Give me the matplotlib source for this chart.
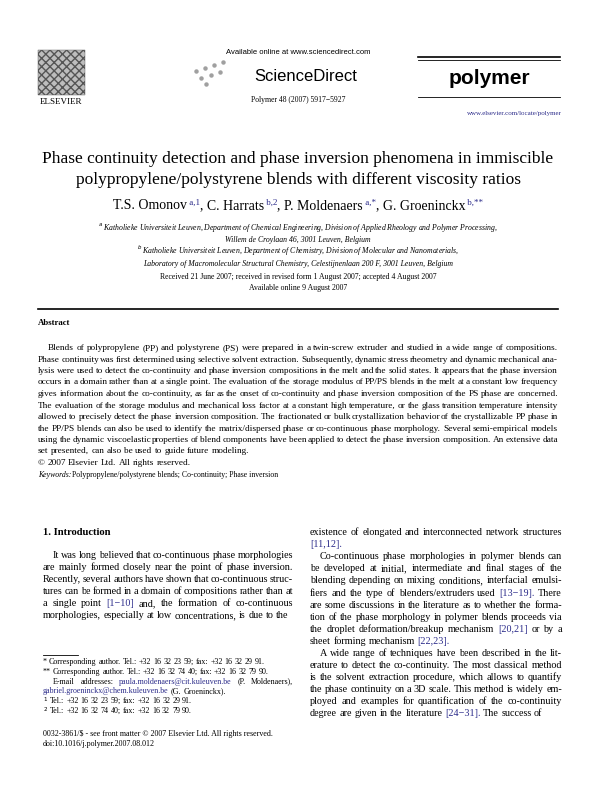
import matplotlib
matplotlib.use("Agg")
import matplotlib.pyplot as plt
from matplotlib.patches import Rectangle

W, H = 595, 794
SERIF = "Liberation Serif"
SANS = "Liberation Sans"
BLUE = "#2b2b8a"

TITLE = [
    "Phase continuity detection and phase inversion phenomena in immiscible",
    "polypropylene/polystyrene blends with different viscosity ratios",
]
AUTHORS = [("T.S. Omonov", "a,1"), (", C. Harrats", "b,2"),
           (", P. Moldenaers", "a,*"), (", G. Groeninckx", "b,**")]
AFFILIATIONS = [
    "$^{a}$ Katholieke Universiteit Leuven, Department of Chemical Engineering, Division of Applied Rheology and Polymer Processing,",
    "Willem de Croylaan 46, 3001 Leuven, Belgium",
    "$^{b}$ Katholieke Universiteit Leuven, Department of Chemistry, Division of Molecular and Nanomaterials,",
    "Laboratory of Macromolecular Structural Chemistry, Celestijnenlaan 200 F, 3001 Leuven, Belgium",
]
DATES = [
    "Received 21 June 2007; received in revised form 1 August 2007; accepted 4 August 2007",
    "Available online 9 August 2007",
]
ABSTRACT = [
    "    Blends of polypropylene (PP) and polystyrene (PS) were prepared in a twin-screw extruder and studied in a wide range of compositions.",
    "Phase continuity was first determined using selective solvent extraction. Subsequently, dynamic stress rheometry and dynamic mechanical ana-",
    "lysis were used to detect the co-continuity and phase inversion compositions in the melt and the solid states. It appears that the phase inversion",
    "occurs in a domain rather than at a single point. The evaluation of the storage modulus of PP/PS blends in the melt at a constant low frequency",
    "gives information about the co-continuity, as far as the onset of co-continuity and phase inversion composition of the PS phase are concerned.",
    "The evaluation of the storage modulus and mechanical loss factor at a constant high temperature, or the glass transition temperature intensity",
    "allowed to precisely detect the phase inversion composition. The fractionated or bulk crystallization behavior of the crystallizable PP phase in",
    "the PP/PS blends can also be used to identify the matrix/dispersed phase or co-continuous phase morphology. Several semi-empirical models",
    "using the dynamic viscoelastic properties of blend components have been applied to detect the phase inversion composition. An extensive data",
    "set presented, can also be used to guide future modeling.",
    "© 2007 Elsevier Ltd. All rights reserved.",
]
LEFT_COL = [
    "    It was long believed that co-continuous phase morphologies",
    "are mainly formed closely near the point of phase inversion.",
    "Recently, several authors have shown that co-continuous struc-",
    "tures can be formed in a domain of compositions rather than at",
    "a single point [1−10] and, the formation of co-continuous",
    "morphologies, especially at low concentrations, is due to the",
]
RIGHT_COL = [
    "existence of elongated and interconnected network structures",
    "[11,12].",
    "    Co-continuous phase morphologies in polymer blends can",
    "be developed at initial, intermediate and final stages of the",
    "blending depending on mixing conditions, interfacial emulsi-",
    "fiers and the type of blenders/extruders used [13−19]. There",
    "are some discussions in the literature as to whether the forma-",
    "tion of the phase morphology in polymer blends proceeds via",
    "the droplet deformation/breakup mechanism [20,21] or by a",
    "sheet forming mechanism [22,23].",
    "    A wide range of techniques have been described in the lit-",
    "erature to detect the co-continuity. The most classical method",
    "is the solvent extraction procedure, which allows to quantify",
    "the phase continuity on a 3D scale. This method is widely em-",
    "ployed and examples for quantification of the co-continuity",
    "degree are given in the literature [24−31]. The success of",
]
FOOTNOTES = [
    "  * Corresponding author. Tel.: +32 16 32 23 59; fax: +32 16 32 29 91.",
    "** Corresponding author. Tel.: +32 16 32 74 40; fax: +32 16 32 79 90.",
    "    E-mail addresses: paula.moldenaers@cit.kuleuven.be (P. Moldenaers),",
    "gabriel.groeninckx@chem.kuleuven.be (G. Groeninckx).",
    "  $^1$ Tel.: +32 16 32 23 59; fax: +32 16 32 29 91.",
    "  $^2$ Tel.: +32 16 32 74 40; fax: +32 16 32 79 90.",
]
FRONT_MATTER = [
    "0032-3861/$ - see front matter © 2007 Elsevier Ltd. All rights reserved.",
    "doi:10.1016/j.polymer.2007.08.012",
]
SD_DOTS_X = [196, 205, 214, 223, 201, 211, 220, 206]
SD_DOTS_Y = [71, 68, 65, 62, 78, 75, 72, 84]

fig = plt.figure(figsize=(W / 100, H / 100), dpi=100)
fig.patch.set_facecolor("white")
renderer = fig.canvas.get_renderer()


def fx(x):
    return x / W


def fy(y):
    return 1 - y / H


def put(x, y, s, size, ha="left", **kw):
    kw.setdefault("family", SERIF)
    return fig.text(fx(x), fy(y), s, fontsize=size, ha=ha, va="baseline", **kw)


def width_of(t):
    return t.get_window_extent(renderer).width


def hline(x0, x1, y, lw=0.8):
    fig.add_artist(plt.Line2D([fx(x0), fx(x1)], [fy(y), fy(y)], color="black", lw=lw))


def word_color(w):
    if "[" in w or "]" in w or "@" in w:
        return BLUE
    return "black"


def justified(lines, x0, x1, y0, dy, size, indent=10, last_free=()):
    for i, line in enumerate(lines):
        y = y0 + i * dy
        start = x0
        if line.startswith("    "):
            start += indent
        words = line.split()
        texts = [put(0, y, w, size, color=word_color(w)) for w in words]
        widths = [width_of(t) for t in texts]
        space = size * 0.25 * 100 / 72
        free = i in last_free or i == len(lines) - 1 or len(words) < 2
        gap = space if free else (x1 - start - sum(widths)) / (len(words) - 1)
        x = start
        for t, wd in zip(texts, widths):
            t.set_x(fx(x))
            x += wd + gap


# header
fig.add_artist(Rectangle((fx(38), fy(95)), fx(47), 45 / H, facecolor="#bdbdbd",
                         edgecolor="#555555", hatch="xxxx", lw=0.3))
put(61, 104, "ELSEVIER", 6.5, ha="center")
put(298, 54, "Available online at www.sciencedirect.com", 5.5, ha="center", family=SANS)
put(306, 81, "ScienceDirect", 12, ha="center", family=SANS)
fig.add_artist(plt.Line2D([fx(v) for v in SD_DOTS_X], [fy(v) for v in SD_DOTS_Y],
                          ls="none", marker="o", ms=2.2, color="#a0a0a0"))
put(298, 102, "Polymer 48 (2007) 5917−5927", 5.5, ha="center")
hline(418, 560, 57, 1.2)
hline(418, 560, 60, 0.6)
put(489, 84, "polymer", 15, ha="center", family=SANS, weight="bold")
hline(418, 560, 97, 0.6)
put(562, 115, "www.elsevier.com/locate/polymer", 5, ha="right", color=BLUE)

# title block
put(298, 163, TITLE[0], 12.5, ha="center")
put(298, 184, TITLE[1], 12.5, ha="center")

# authors, built piece by piece and centred
pieces = []
for name, sup in AUTHORS:
    pieces.append(put(0, 209, name, 10))
    pieces.append(put(0, 205, " " + sup, 6.5, color=BLUE))
total = sum(width_of(t) for t in pieces)
x = 298 - total / 2
for t in pieces:
    t.set_x(fx(x))
    x += width_of(t)

for i, s in enumerate(AFFILIATIONS):
    put(298, 230 + i * 12, s, 5.6, ha="center", style="italic")
put(298, 279, DATES[0], 5.6, ha="center")
put(298, 290, DATES[1], 5.6, ha="center")

# abstract
hline(38, 558, 309, 1.2)
put(38, 325, "Abstract", 6.3, weight="bold")
justified(ABSTRACT, 38, 558, 350, 11.5, 6.7, indent=10, last_free=(9, 10))
put(38, 477, "Keywords: ", 5.6, style="italic")
put(72, 477, "Polypropylene/polystyrene blends; Co-continuity; Phase inversion", 5.6)

# introduction
put(43, 535, "1. Introduction", 7.6, weight="bold")
justified(LEFT_COL, 43, 293, 558, 12.1, 7.3, indent=10)
justified(RIGHT_COL, 310, 562, 535, 12.1, 7.3, indent=10, last_free=(1, 9))

# footnotes
hline(43, 78, 655, 0.6)
justified(FOOTNOTES, 43, 293, 664, 9.8, 5.8, indent=10, last_free=(0, 1, 3, 4, 5))
put(43, 736, FRONT_MATTER[0], 5.8)
put(43, 746, FRONT_MATTER[1], 5.8)

fig.savefig("out.png", dpi=100, facecolor="white")
